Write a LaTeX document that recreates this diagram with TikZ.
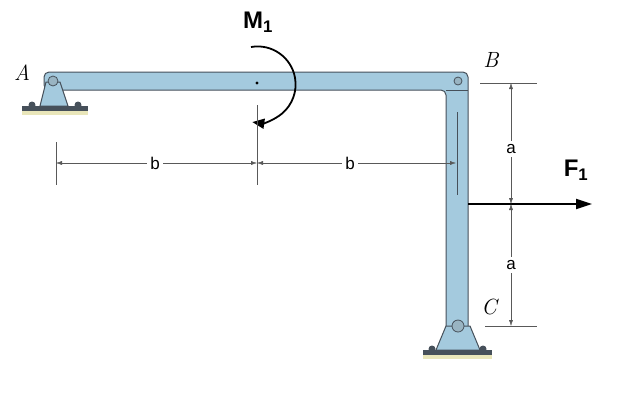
\documentclass[tikz,border=0pt]{standalone}
\usepackage{fontspec}
\setsansfont{Liberation Sans}
\usetikzlibrary{arrows.meta}
\definecolor{mem}{RGB}{164,202,222}
\definecolor{edge}{RGB}{70,80,90}
\tikzset{
  member/.style={fill=mem,draw=edge,line width=1pt},
  dim/.style={draw=gray!70!black,line width=0.4pt},
  dimarr/.style={dim,-{Latex[length=6pt,width=4pt]}},
  lbl/.style={font=\sffamily\fontsize{17}{19}\selectfont},
  pt/.style={font=\rmfamily\itshape\fontsize{22}{24}\selectfont},
  big/.style={font=\sffamily\bfseries\fontsize{24}{26}\selectfont},
  pin/.style={fill=mem!70!gray,draw=edge,line width=0.8pt}
}
\begin{document}
\begin{tikzpicture}[x=1pt,y=-1pt]
\useasboundingbox (0,0) rectangle (620,400);
% members
\draw[member,rounded corners=5pt] (446,346) -- (446,90) -- (44,90) -- (44,72) -- (468,72) -- (468,346);
\draw[edge,line width=1pt] (446,90) -- (468,90);
\draw[edge,line width=0.6pt] (457,112) -- (457,195);
% supports
\fill[olive!20] (22,111) rectangle (88,115);
\draw[member] (40,106) -- (46,82) -- (60,82) -- (68,106) -- cycle;
\fill[edge] (22,106) rectangle (88,111);
\fill[edge] (32,105) circle (3.5); \fill[edge] (78,105) circle (3.5);
\fill[olive!20] (423,355) rectangle (492,359);
\draw[member] (436,350) -- (446,326) -- (470,326) -- (480,350) -- cycle;
\fill[edge] (423,350) rectangle (492,355);
\fill[edge] (432,349) circle (3.5); \fill[edge] (483,349) circle (3.5);
\node[pin,circle,inner sep=0pt,minimum size=10pt] (A) at (53,81) {};
\node[pin,circle,inner sep=0pt,minimum size=8pt] (B) at (458,81) {};
\node[pin,circle,inner sep=0pt,minimum size=12pt] (C) at (458,326) {};
\fill (257,83) circle (1.6);
\coordinate (O) at (257,83);
% labels
\node[pt] (lA) at (22,73) {A};
\node[pt] (lB) at (491,60) {B};
\node[pt] (lC) at (489,307) {C};
\node[big] (M) at (258,22) {M\textsubscript{1}};
\node[big] (F) at (576,170) {F\textsubscript{1}};
% moment
\draw[line width=1.8pt,-{Triangle[length=12pt,width=10pt]}] (251,47) arc[start angle=-100,end angle=98,radius=38];
% force
\coordinate (F0) at (468,204); \coordinate (F1) at (592,204);
\draw[line width=2pt,-{Triangle[length=16pt,width=10pt]}] (F0) -- (F1);
% horizontal dims
\draw[dim] (56,142) -- (56,185);
\draw[dim] (257,105) -- (257,185);
\coordinate (d1) at (56,163); \coordinate (d2) at (257,163); \coordinate (d3) at (456,163);
\node[lbl] (b1) at (155,163) {b};
\node[lbl] (b2) at (350,163) {b};
\draw[dimarr] (b1) -- (d1); \draw[dimarr] (b1) -- (d2);
\draw[dimarr] (b2) -- (d2); \draw[dimarr] (b2) -- (d3);
% vertical dims
\draw[dim] (480,83) -- (537,83);
\draw[dim] (485,326) -- (537,326);
\coordinate (e1) at (511,83); \coordinate (e2) at (511,204); \coordinate (e3) at (511,326);
\node[lbl] (a1) at (511,149) {a};
\node[lbl] (a2) at (511,265) {a};
\draw[dimarr] (a1) -- (e1); \draw[dimarr] (a1) -- (e2);
\draw[dimarr] (a2) -- (e2); \draw[dimarr] (a2) -- (e3);
\end{tikzpicture}
\end{document}
